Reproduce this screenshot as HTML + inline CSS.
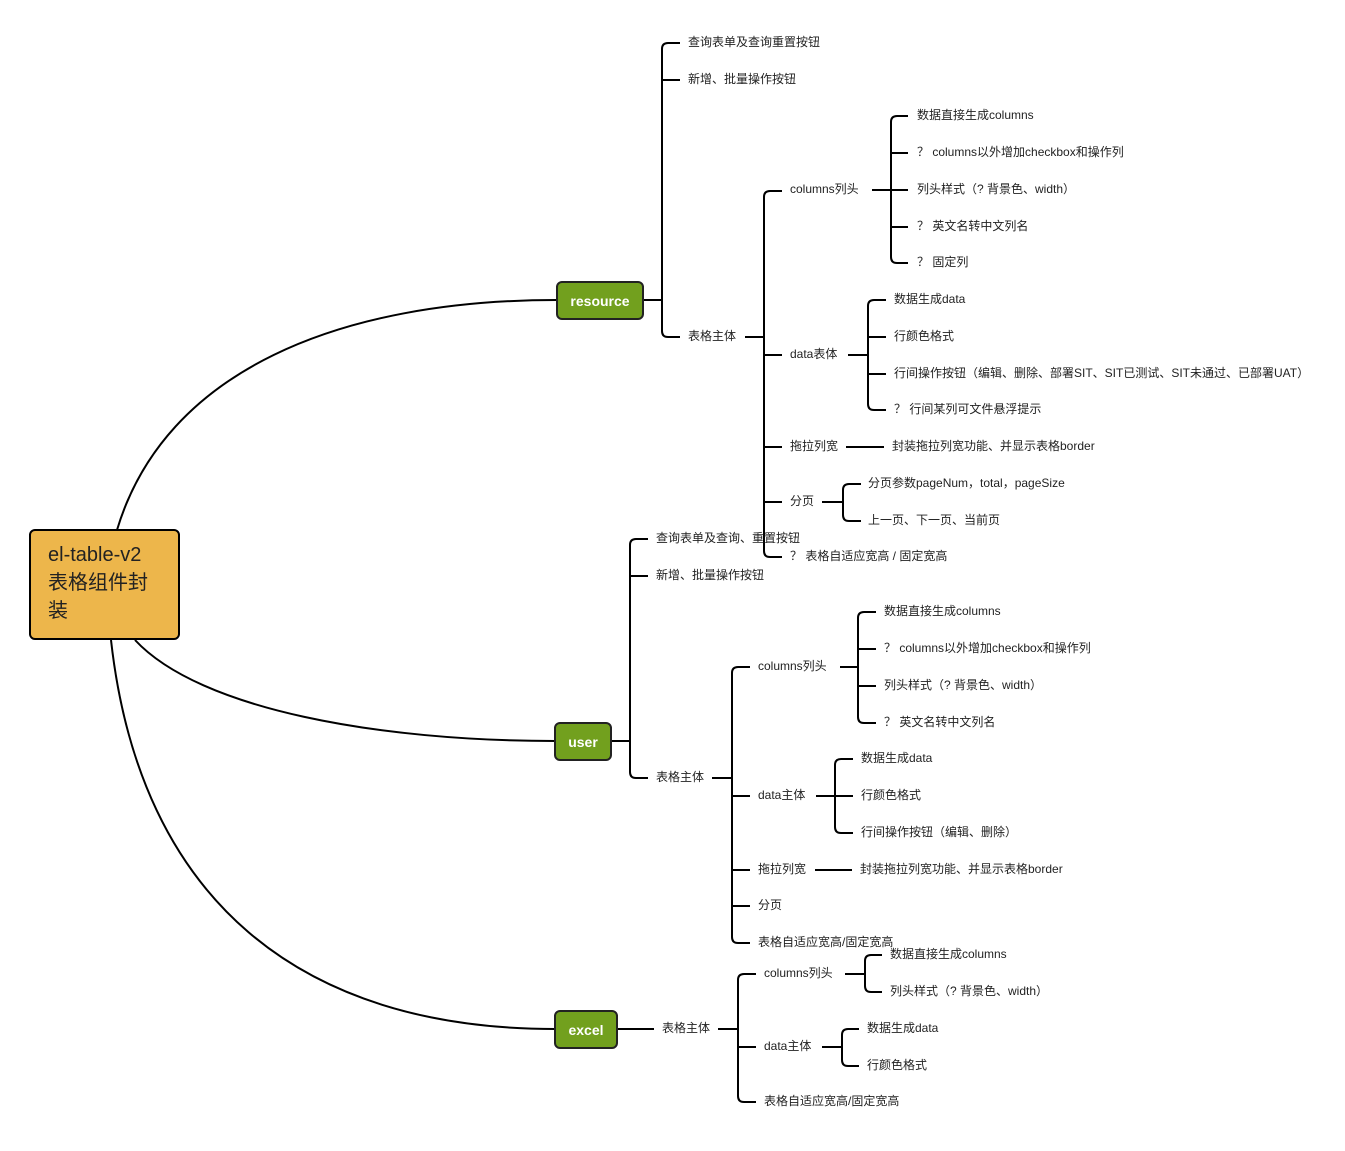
<!DOCTYPE html>
<html><head><meta charset="utf-8"><style>
html,body{margin:0;padding:0;background:#fff}
svg text{font-family:"Liberation Sans","Noto Sans CJK SC",sans-serif;font-size:12px;fill:#222;dominant-baseline:central}
</style></head><body>
<svg width="1345" height="1146" viewBox="0 0 1345 1146" xmlns="http://www.w3.org/2000/svg">
<g fill="none" stroke="#000" stroke-width="2">
<path d="M117,530 C165,370 340,300 557,300"/>
<path d="M135,640 C200,710 380,741 555,741"/>
<path d="M111,640 C140,900 300,1029 555,1029"/>
<path d="M643,300 H662"/>
<path d="M680,43 H668 Q662,43 662,49 V331 Q662,337 668,337 H680 M662,80 H680"/>
<path d="M745,337 H764"/>
<path d="M782,191 H770 Q764,191 764,197 V551 Q764,557 770,557 H782 M764,355 H782 M764,447 H782 M764,502 H782"/>
<path d="M872,190 H891"/>
<path d="M908,116 H897 Q891,116 891,122 V257 Q891,263 897,263 H908 M891,153 H908 M891,190 H908 M891,227 H908"/>
<path d="M848,355 H868"/>
<path d="M886,300 H874 Q868,300 868,306 V404 Q868,410 874,410 H886 M868,337 H886 M868,374 H886"/>
<path d="M846,447 H884"/>
<path d="M822,502 H843"/>
<path d="M861,484 H849 Q843,484 843,490 V515 Q843,521 849,521 H861"/>
<path d="M611,741 H630"/>
<path d="M648,539 H636 Q630,539 630,545 V772 Q630,778 636,778 H648 M630,576 H648"/>
<path d="M712,778 H732"/>
<path d="M750,667 H738 Q732,667 732,673 V937 Q732,943 738,943 H750 M732,796 H750 M732,870 H750 M732,906 H750"/>
<path d="M840,667 H858"/>
<path d="M876,612 H864 Q858,612 858,618 V717 Q858,723 864,723 H876 M858,649 H876 M858,686 H876"/>
<path d="M816,796 H835"/>
<path d="M853,759 H841 Q835,759 835,765 V827 Q835,833 841,833 H853 M835,796 H853"/>
<path d="M815,870 H852"/>
<path d="M617,1029 H654"/>
<path d="M718,1029 H738"/>
<path d="M756,974 H744 Q738,974 738,980 V1096 Q738,1102 744,1102 H756 M738,1047 H756"/>
<path d="M845,974 H865"/>
<path d="M882,955 H871 Q865,955 865,961 V986 Q865,992 871,992 H882"/>
<path d="M822,1047 H842"/>
<path d="M859,1029 H848 Q842,1029 842,1035 V1060 Q842,1066 848,1066 H859"/>
</g>
<rect x="30" y="530" width="149" height="109" rx="5" fill="#EDB64B" stroke="#000" stroke-width="2"/>
<text x="48" y="555" style="font-size:20px">el-table-v2</text>
<text x="48" y="583" style="font-size:20px">表格组件封</text>
<text x="48" y="611" style="font-size:20px">装</text>
<rect x="557" y="282" width="86" height="37" rx="5" fill="#72A01E" stroke="#222" stroke-width="2"/>
<text x="600" y="301" text-anchor="middle" style="fill:#fff;font-size:14px;font-weight:bold">resource</text>
<rect x="555" y="723" width="56" height="37" rx="5" fill="#72A01E" stroke="#222" stroke-width="2"/>
<text x="583" y="742" text-anchor="middle" style="fill:#fff;font-size:14px;font-weight:bold">user</text>
<rect x="555" y="1011" width="62" height="37" rx="5" fill="#72A01E" stroke="#222" stroke-width="2"/>
<text x="586" y="1030" text-anchor="middle" style="fill:#fff;font-size:14px;font-weight:bold">excel</text>
<g transform="translate(0,1)">
<text x="688" y="41">查询表单及查询重置按钮</text>
<text x="688" y="78">新增、批量操作按钮</text>
<text x="688" y="335">表格主体</text>
<text x="790" y="188">columns列头</text>
<text x="790" y="353">data表体</text>
<text x="790" y="445">拖拉列宽</text>
<text x="790" y="500">分页</text>
<text x="790" y="555">？ 表格自适应宽高 / 固定宽高</text>
<text x="917" y="114">数据直接生成columns</text>
<text x="917" y="151">？ columns以外增加checkbox和操作列</text>
<text x="917" y="188">列头样式（? 背景色、width）</text>
<text x="917" y="225">？ 英文名转中文列名</text>
<text x="917" y="261">？ 固定列</text>
<text x="894" y="298">数据生成data</text>
<text x="894" y="335">行颜色格式</text>
<text x="894" y="372">行间操作按钮（编辑、删除、部署SIT、SIT已测试、SIT未通过、已部署UAT）</text>
<text x="894" y="408">？ 行间某列可文件悬浮提示</text>
<text x="892" y="445">封装拖拉列宽功能、并显示表格border</text>
<text x="868" y="482">分页参数pageNum，total，pageSize</text>
<text x="868" y="519">上一页、下一页、当前页</text>
<text x="656" y="537">查询表单及查询、重置按钮</text>
<text x="656" y="574">新增、批量操作按钮</text>
<text x="656" y="776">表格主体</text>
<text x="758" y="665">columns列头</text>
<text x="758" y="794">data主体</text>
<text x="758" y="868">拖拉列宽</text>
<text x="758" y="904">分页</text>
<text x="758" y="941">表格自适应宽高/固定宽高</text>
<text x="884" y="610">数据直接生成columns</text>
<text x="884" y="647">？ columns以外增加checkbox和操作列</text>
<text x="884" y="684">列头样式（? 背景色、width）</text>
<text x="884" y="721">？ 英文名转中文列名</text>
<text x="861" y="757">数据生成data</text>
<text x="861" y="794">行颜色格式</text>
<text x="861" y="831">行间操作按钮（编辑、删除）</text>
<text x="860" y="868">封装拖拉列宽功能、并显示表格border</text>
<text x="662" y="1027">表格主体</text>
<text x="764" y="972">columns列头</text>
<text x="764" y="1045">data主体</text>
<text x="764" y="1100">表格自适应宽高/固定宽高</text>
<text x="890" y="953">数据直接生成columns</text>
<text x="890" y="990">列头样式（? 背景色、width）</text>
<text x="867" y="1027">数据生成data</text>
<text x="867" y="1064">行颜色格式</text>
</g>
</svg>
</body></html>
